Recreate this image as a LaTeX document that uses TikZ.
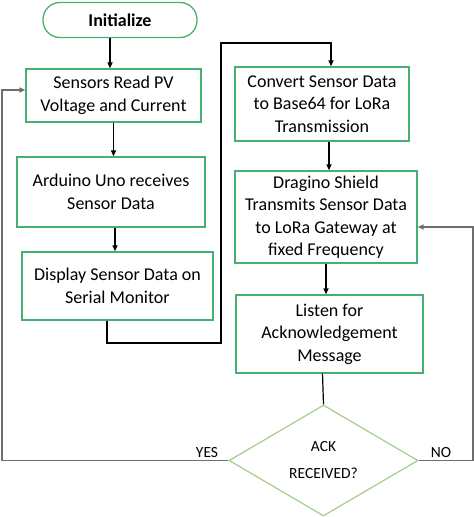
\documentclass[tikz,border=0pt]{standalone}
\usepackage{fontspec}
\setmainfont{Carlito}
\usetikzlibrary{shapes.geometric,arrows.meta}
\definecolor{boxgreen}{RGB}{70,175,115}
\definecolor{diagreen}{RGB}{165,205,140}
\definecolor{linegray}{RGB}{110,110,110}
\begin{document}
\begin{tikzpicture}[x=1pt, y=-1pt,
  step box/.style={draw=boxgreen, line width=1.3pt, align=center, inner sep=2pt,
    font=\fontsize{18}{22.5}\selectfont},
  arr/.style={-{Triangle[length=6pt,width=5pt]}, line width=1.6pt},
  lab/.style={font=\fontsize{15.5}{18}\selectfont}]
\useasboundingbox (0,0) rectangle (474,517);
\node[step box, rounded corners=17pt, minimum width=154pt, minimum height=35pt,
  font=\fontsize{18}{22.5}\selectfont\bfseries] (init) at (120,20) {Initialize};
\node[step box, minimum width=175pt, minimum height=53pt] (sense) at (113.5,95.5)
  {Sensors Read PV\\Voltage and Current};
\node[step box, minimum width=188pt, minimum height=70pt] (ardu) at (111,192)
  {Arduino Uno receives\\Sensor Data};
\node[step box, minimum width=191pt, minimum height=68pt] (disp) at (117.5,286)
  {Display Sensor Data on\\Serial Monitor};
\node[step box, minimum width=174pt, minimum height=74pt] (conv) at (322,104)
  {Convert Sensor Data\\to Base64 for LoRa\\Transmission};
\node[step box, minimum width=182pt, minimum height=92pt] (drag) at (326,217)
  {Dragino Shield\\Transmits Sensor Data\\to LoRa Gateway at\\fixed Frequency};
\node[step box, minimum width=187pt, minimum height=78pt] (listen) at (329.5,334)
  {Listen for\\Acknowledgement\\Message};
\node[diamond, draw=diagreen, line width=1.2pt, minimum width=189pt, minimum height=111pt,
  aspect=1.7, inner sep=0pt, align=center, lab] (ack) at (323.5,460.5)
  {ACK\\[9pt]RECEIVED?};
% connectors
\coordinate (low) at (221,343);
\coordinate (high) at (221,43);
\coordinate (yesend) at (2,460.5);
\coordinate (yestop) at (2,90);
\coordinate (noend) at (473,460.5);
\coordinate (notop) at (473,227);
\draw[arr] ([xshift=-10pt]init.south) -- ([xshift=-10pt]init.south |- sense.north);
\draw[arr] (sense.south) -- (sense.south |- ardu.north);
\draw[arr] ([xshift=4pt]ardu.south) -- ([xshift=4pt]ardu.south |- disp.north);
\draw[arr, line width=2pt] ([xshift=-11pt]disp.south) |- (low) -- (high)
  -| ([xshift=9pt]conv.north);
\draw[arr] ([xshift=7pt]conv.south) -- ([xshift=7pt]conv.south |- drag.north);
\draw[arr] (drag.south) -- (drag.south |- listen.north);
\draw[line width=1.2pt] ([xshift=-7pt]listen.south) -- (ack.north);
\draw[linegray, line width=1.3pt] (ack.west) -- (yesend);
\draw[arr, linegray, line width=1.8pt] (yesend) -- (yestop) -- (sense.west |- yestop);
\draw[arr, linegray, line width=1.3pt] (ack.east) -- (noend) -- (notop) -- (drag.east |- notop);
\node[lab] (yes) at (207,453) {YES};
\node[lab] (no) at (441,453) {NO};
\end{tikzpicture}
\end{document}
